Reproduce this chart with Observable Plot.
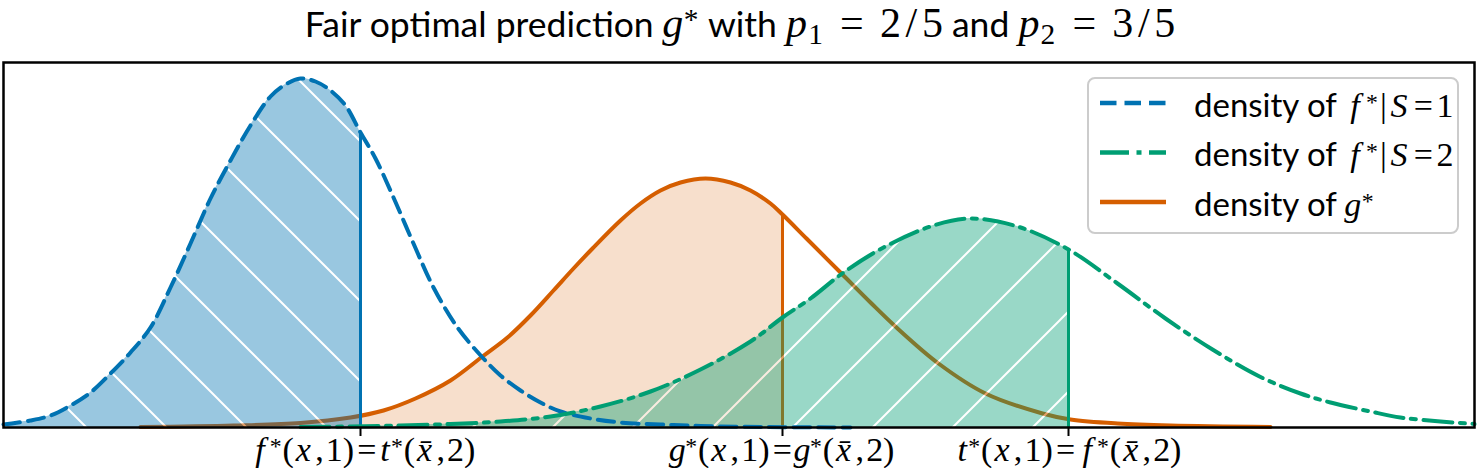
<!DOCTYPE html>
<html>
<head>
<meta charset="utf-8">
<script src="https://cdn.jsdelivr.net/npm/d3@7"></script>
<script src="https://cdn.jsdelivr.net/npm/@observablehq/plot@0.6"></script>
<style>
  html, body { margin: 0; padding: 0; background: white; }
  svg text { white-space: pre; }
</style>
</head>
<body>
<div id="chart"></div>
<script>
// ---- data ----
const blueX = [0.00,0.27,0.47,0.67,0.87,1.07,1.27,1.47,1.67,1.87,2.07,2.27,2.47,2.67,2.82,2.97,3.12,3.27,3.42,3.57,3.72,3.90,4.10,4.30,4.54,4.79,4.97,5.17,5.37,5.57,5.87,6.17,6.57,6.97,7.57,8.47];
const blueY = [0.003,0.007,0.012,0.022,0.035,0.054,0.075,0.100,0.140,0.184,0.229,0.267,0.302,0.331,0.343,0.349,0.346,0.337,0.322,0.295,0.269,0.230,0.184,0.140,0.100,0.070,0.052,0.037,0.025,0.016,0.009,0.005,0.003,0.0015,0.0005,0.0];

const orangeX = [1.37,2.30,2.97,3.47,3.80,4.12,4.47,4.79,5.04,5.27,5.50,5.70,5.89,6.17,6.37,6.57,6.77,7.02,7.27,7.47,7.67,7.79,8.03,8.38,8.67,8.93,9.35,9.82,10.39,10.67,11.14,11.67,12.67];
const orangeY = [0.0005,0.002,0.0045,0.010,0.017,0.029,0.047,0.071,0.090,0.112,0.137,0.159,0.179,0.207,0.224,0.237,0.245,0.249,0.245,0.237,0.224,0.213,0.189,0.154,0.125,0.100,0.064,0.034,0.014,0.008,0.004,0.002,0.0005];

const greenX = [2.97,3.47,3.97,4.47,4.97,5.47,5.97,6.47,6.97,7.47,7.79,8.07,8.40,8.80,9.30,9.67,10.14,10.65,11.14,11.62,12.09,12.56,12.97,13.27,13.67,13.97,14.37,14.71];
const greenY = [0.0005,0.001,0.002,0.0035,0.006,0.011,0.021,0.036,0.058,0.086,0.110,0.129,0.155,0.180,0.202,0.209,0.201,0.178,0.144,0.109,0.078,0.051,0.034,0.025,0.016,0.010,0.006,0.0035];

const thresholds = [3.57, 7.79, 10.65];
const thresholdHeights = [0.295, 0.213, 0.178];
// math markup: ^ superscript, _ subscript, {=} ordinary equals, = relation, ~ bar on next letter
const tickLabels = ["$f^*(x,1){=}t^*(~x,2)$", "$g^*(x,1){=}g^*(~x,2)$", "$t^*(x,1){=}f^*(~x,2)$"];

const titleText = "Fair optimal prediction $g^*$ with $p_1=2/5$ and $p_2=3/5$";
const legendLabels = ["density of $f^*|S{=}1$", "density of $f^*|S{=}2$", "density of $g^*$"];

const BLUE = "#0072B2", GREEN = "#009E73", ORANGE = "#D55E00";
const legendColors = [BLUE, GREEN, ORANGE];
const legendDashes = ["16.5,8", "29,7.5,5,7.5", null];

// ---- tables ----
const toRows = (xs, ys) => xs.map((x, i) => ({x, y: ys[i]}));
const blue = toRows(blueX, blueY);
const orange = toRows(orangeX, orangeY);
const green = toRows(greenX, greenY);
const blueFill = blue.filter(d => d.x <= thresholds[0]);
const orangeFill = orange.filter(d => d.x <= thresholds[1]);
const greenFill = green.filter(d => d.x <= thresholds[2]);
const rules = thresholds.map((x, i) => ({x, y: thresholdHeights[i]}));

const SANS = "Lato, 'Noto Sans', sans-serif";
const SERIF = "'Liberation Serif', 'DejaVu Serif', serif";

// Computer-Modern-like advance widths (em) for math glyphs
const CM = {f: 0.598, g: 0.477, p: 0.503, x: 0.572, t: 0.361, S: 0.645,
  "(": 0.389, ")": 0.389, "/": 0.5, "=": 0.778, ",": 0.278, "|": 0.278, "*": 0.5,
  "0": 0.5, "1": 0.5, "2": 0.5, "3": 0.5, "4": 0.5, "5": 0.5};

// returns the trailing advance that could not be attached to a glyph
function richText(sel, str, fs, ms, advScale = 1) {
  sel.text(null);
  const runs = [];
  let inMath = false, buf = "";
  const chars = Array.from(str);
  const flush = () => { if (buf) { runs.push({t: buf, family: SANS, italic: false, size: fs, shift: 0, adv: null}); buf = ""; } };
  let i = 0, bar = false;
  const ma = ms * advScale;
  while (i < chars.length) {
    const c = chars[i];
    if (c === "$") { flush(); inMath = !inMath; i++; continue; }
    if (!inMath) { buf += c; i++; continue; }
    if (c === "^" || c === "_") {
      const s = chars[i + 1];
      const shift = c === "^" ? (s === "*" ? -0.2 * ms : -0.38 * ms) : 0.17 * ms;
      const adv = (/[0-9]/.test(s) ? 0.398 : (s === "*" ? 0.4 : (CM[s] || 0.5) * 0.7)) * ma;
      runs.push({t: s, family: SERIF, italic: /[a-zA-Z]/.test(s), size: ms * 0.7, shift, adv});
      i += 2; continue;
    }
    if (c === "~") { bar = true; i++; continue; }
    if (c === "{") {
      runs.push({t: chars[i + 1], family: SERIF, italic: false, size: ms, shift: 0, adv: CM[chars[i + 1]] * ma});
      i += 3; continue;
    }
    let adv = (CM[c] || 0.5) * ma;
    if (c === "=") adv += 2 * 0.278 * ma;
    if (c === ",") adv += 0.167 * ma;
    const t = bar ? c + "\u0304" : c;
    bar = false;
    runs.push({t, family: SERIF, italic: /[a-zA-Z]/.test(c), size: ms, shift: 0, adv, lead: c === "=" ? 0.278 * ma : 0});
    i++;
  }
  flush();
  let shift = 0, pending = 0;
  for (const r of runs) {
    const ts = sel.append("tspan").text(r.t)
      .attr("font-family", r.family)
      .attr("font-size", r.size)
      .attr("font-style", r.italic ? "italic" : "normal");
    if (r.shift !== shift) { ts.attr("dy", r.shift - shift); shift = r.shift; }
    const w = ts.node().getComputedTextLength();
    if (r.adv == null) {
      if (pending) ts.attr("dx", pending);
      pending = 0;
    } else {
      const extra = r.adv - w;
      const before = r.lead ? r.lead + (extra - 2 * r.lead) / 2 : extra / 2;
      ts.attr("dx", pending + before);
      pending = extra - before;
    }
  }
  return pending;
}

const chart = Plot.plot({
  width: 1477,
  height: 468,
  marginLeft: 3,
  marginRight: 3,
  marginTop: 62,
  marginBottom: 41,
  x: {domain: [0, 14.71]},
  y: {domain: [0, 0.365], axis: null},
  style: {background: "white", color: "black", fontFamily: SANS, overflow: "visible"},
  marks: [
    Plot.areaY(orangeFill, {x: "x", y: "y", fill: ORANGE, fillOpacity: 0.2, curve: "catmull-rom"}),
    Plot.line(orange, {x: "x", y: "y", stroke: ORANGE, strokeWidth: 4, curve: "catmull-rom"}),
    Plot.ruleX(rules.slice(1, 2), {x: "x", y1: 0, y2: "y", stroke: ORANGE, strokeWidth: 3}),
    Plot.areaY(blueFill, {x: "x", y: "y", fill: "url(#hatchBlue)", fillOpacity: 0.4, curve: "catmull-rom"}),
    Plot.areaY(greenFill, {x: "x", y: "y", fill: "url(#hatchGreen)", fillOpacity: 0.4, curve: "catmull-rom"}),
    Plot.line(blue, {x: "x", y: "y", stroke: BLUE, strokeWidth: 4, strokeDasharray: legendDashes[0], curve: "catmull-rom"}),
    Plot.ruleX(rules.slice(0, 1), {x: "x", y1: 0, y2: "y", stroke: BLUE, strokeWidth: 3}),
    Plot.line(green, {x: "x", y: "y", stroke: GREEN, strokeWidth: 4, strokeDasharray: legendDashes[1], curve: "catmull-rom"}),
    Plot.ruleX(rules.slice(2, 3), {x: "x", y1: 0, y2: "y", stroke: GREEN, strokeWidth: 3}),
    Plot.frame({stroke: "black", strokeWidth: 2.5}),
    Plot.axisX({ticks: thresholds, tickSize: 9, tickPadding: 0, strokeWidth: 2,
      tickFormat: d => tickLabels[thresholds.indexOf(d)], fontSize: 34, label: null})
  ]
});

document.getElementById("chart").appendChild(chart);

const svg = d3.select(chart);
svg.insert("defs", ":first-child").html(`
  <pattern id="hatchBlue" patternUnits="userSpaceOnUse" width="80" height="80" patternTransform="translate(59,0)">
    <rect width="80" height="80" fill="${BLUE}"/>
    <path d="M-10,-10 L90,90 M70,-10 L90,10 M-10,70 L10,90" stroke="white" stroke-width="2"/>
  </pattern>
  <pattern id="hatchGreen" patternUnits="userSpaceOnUse" width="80" height="80" patternTransform="translate(20,0)">
    <rect width="80" height="80" fill="${GREEN}"/>
    <path d="M-10,90 L90,-10 M-10,10 L10,-10 M70,90 L90,70" stroke="white" stroke-width="2"/>
  </pattern>`);

// tick labels with math styling
svg.selectAll('g[aria-label="x-axis tick label"] text').each(function () {
  const s = this.textContent;
  const sel = d3.select(this);
  const rest = richText(sel, s, 34, 34, 0.93);
  sel.attr("dx", -rest / 2);
});

// title
const title = svg.append("text")
  .attr("x", 740).attr("y", 37)
  .attr("text-anchor", "middle")
  .attr("fill", "black")
  .attr("font-size", 35.5);
const titleRest = richText(title, titleText, 35.5, 42);
title.attr("dx", -titleRest / 2);

// legend
const lg = svg.append("g");
lg.append("rect")
  .attr("x", 1088).attr("y", 78).attr("width", 370).attr("height", 155)
  .attr("rx", 7).attr("fill", "white").attr("fill-opacity", 0.8)
  .attr("stroke", "#cccccc").attr("stroke-width", 2);
legendLabels.forEach((lab, i) => {
  const ly = 103 + i * 49.5;
  const ln = lg.append("line")
    .attr("x1", 1100).attr("x2", 1166).attr("y1", ly).attr("y2", ly)
    .attr("stroke", legendColors[i]).attr("stroke-width", 4.5);
  if (legendDashes[i]) ln.attr("stroke-dasharray", legendDashes[i]);
  const t = lg.append("text")
    .attr("x", 1194).attr("y", ly + 13.5)
    .attr("text-anchor", "start")
    .attr("fill", "black").attr("font-size", 33);
  richText(t, lab, 33, 34);
});
</script>
</body>
</html>
